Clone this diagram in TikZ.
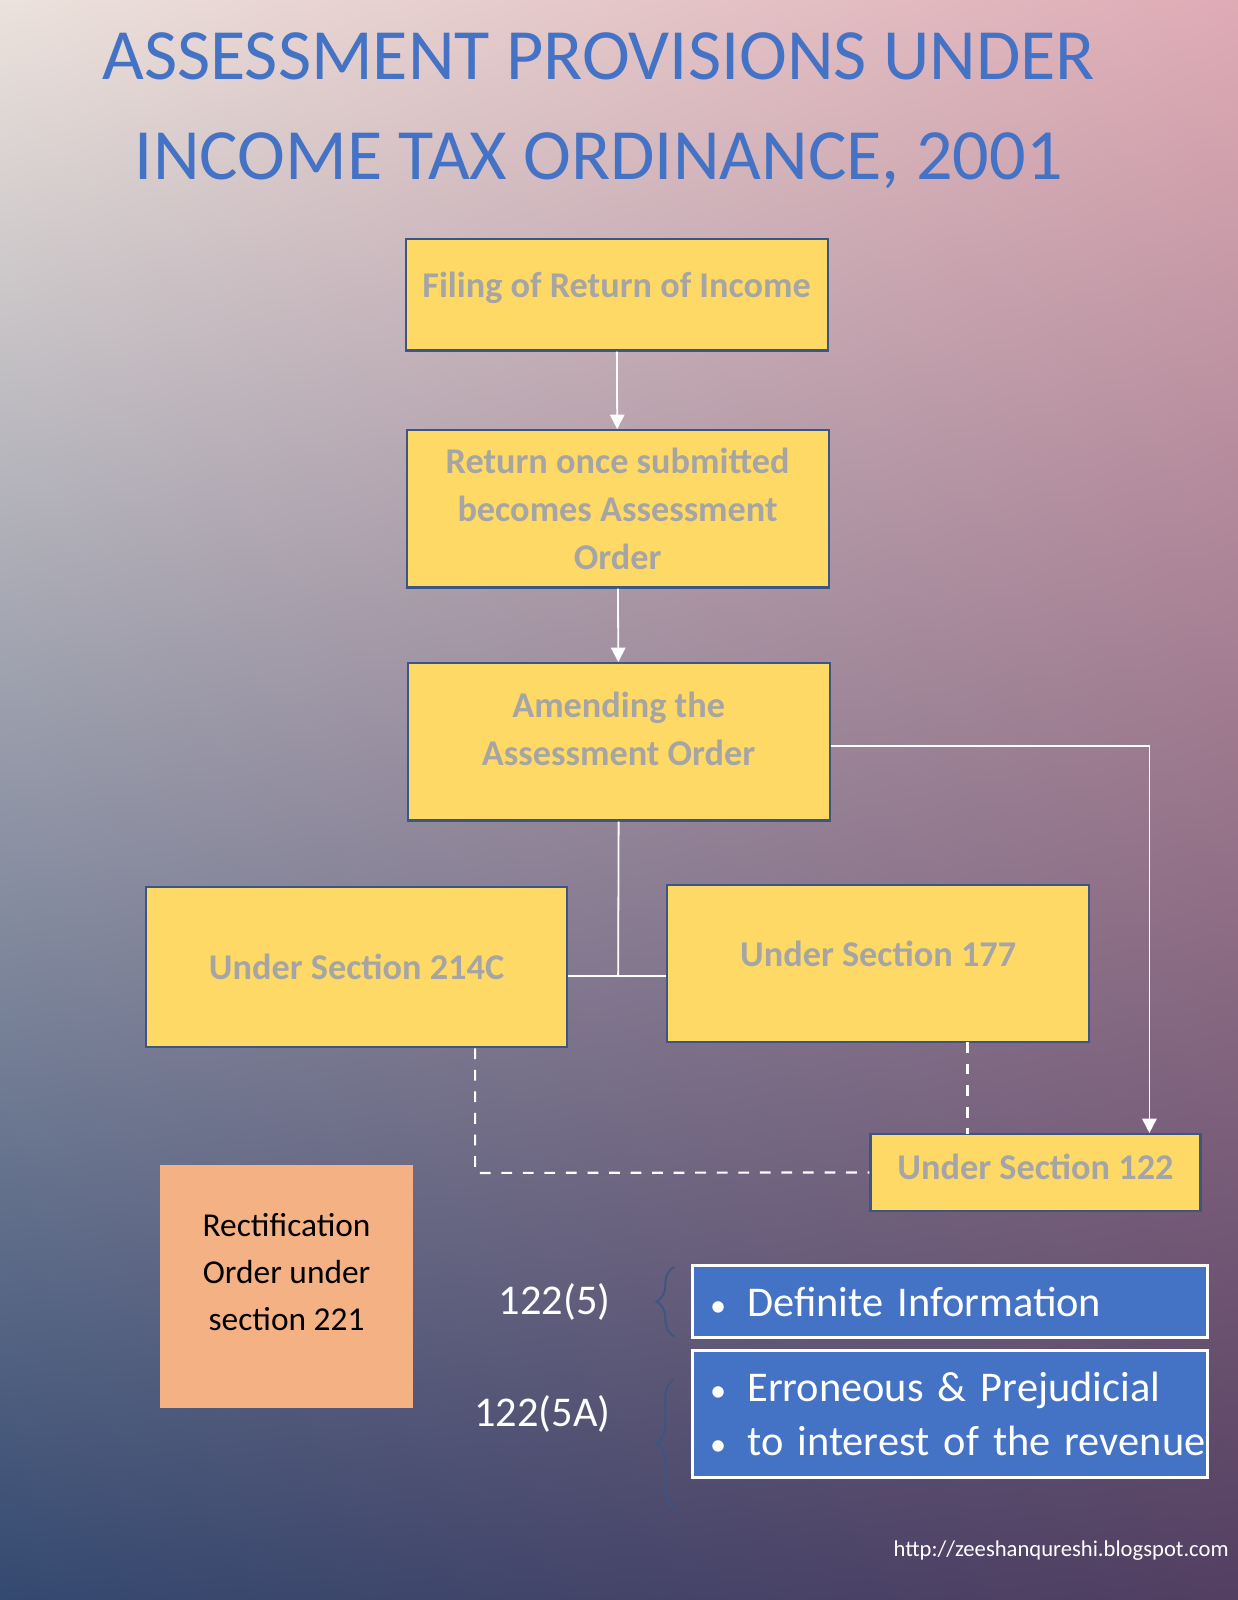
\documentclass[tikz,border=0pt]{standalone}
\usepackage{fontspec}
\setmainfont{Carlito}
\usetikzlibrary{positioning,arrows.meta,decorations.pathreplacing,shadings}
\definecolor{titleblue}{HTML}{4472C4}
\definecolor{boxyellow}{HTML}{FFD966}
\definecolor{boxedge}{HTML}{3B5584}
\definecolor{boxgray}{HTML}{A5A5A5}
\definecolor{rectorange}{HTML}{F4B183}
\definecolor{bgtl}{RGB}{236,226,220}
\definecolor{bgtr}{RGB}{222,170,180}
\definecolor{bgbl}{RGB}{48,70,110}
\definecolor{bgbr}{RGB}{80,60,95}
\tikzset{
 stage/.style={draw=boxedge,fill=boxyellow,line width=0.6pt,align=center,text=boxgray,font=\fontsize{10.1}{13.3}\selectfont\bfseries,inner sep=2pt},
 point/.style={draw=white,fill=titleblue,line width=0.8pt,text=white,align=left,font=\fontsize{11.8}{15}\selectfont,anchor=west,inner xsep=2pt,inner ysep=3pt,text width=4.9cm},
 link/.style={draw=white,line width=0.5pt},
 arrow/.style={link,-{Triangle[width=4pt,length=4pt]}},
 dashlink/.style={link,dashed,line width=0.6pt}
}
\newcommand{\bulletline}[1]{\mbox{\hspace*{3pt}{\small\textbullet}\enspace #1}}
\begin{document}
\begin{tikzpicture}
 \shade[upper left=bgtl,upper right=bgtr,lower left=bgbl,lower right=bgbr] (0,0) rectangle (12.37,-16);

 %Title
 \node (title1) [text=titleblue,font=\fontsize{20.1}{24}\selectfont] at (5.86,-0.55) {ASSESSMENT PROVISIONS UNDER};
 \node (title2) [text=titleblue,font=\fontsize{20.1}{24}\selectfont] at (5.86,-1.57) {INCOME TAX ORDINANCE, 2001};

 %Boxes
 \node (filing) [stage,minimum width=4.13cm,minimum height=1.09cm] at (6.035,-2.885) {Filing of Return of Income\\[-8pt]~};
 \node (return) [stage,minimum width=4.13cm,minimum height=1.54cm] at (6.045,-4.98) {Return once submitted\\becomes Assessment\\Order};
 \node (amend) [stage,minimum width=4.13cm,minimum height=1.54cm] at (6.055,-7.26) {Amending the\\Assessment Order\\[-6pt]~};
 \node (s214) [stage,minimum width=4.12cm,minimum height=1.57cm] at (3.49,-9.465) {Under Section 214C};
 \node (s177) [stage,minimum width=4.13cm,minimum height=1.54cm] at (8.595,-9.43) {Under Section 177\\[-8pt]~};
 \node (s122) [stage,minimum width=3.23cm,minimum height=0.75cm] at (10.135,-11.475) {Under Section 122\\[-10pt]~};
 \node (rect) [draw=none,fill=rectorange,minimum width=2.47cm,minimum height=2.38cm,align=center,font=\fontsize{9.3}{13}\selectfont] at (2.805,-12.59) {Rectification\\Order under\\section 221\\[-5pt]~};
 \node (info) [point,minimum height=0.7cm] at (6.76,-12.74) {\bulletline{Definite Information}};
 \node (err) [point,minimum height=1.24cm] at (6.76,-13.84) {\bulletline{Erroneous \& Prejudicial}\\\bulletline{to interest of the revenue}};

 %Labels
 \node (l5) [text=white,anchor=east,font=\fontsize{11.8}{15}\selectfont] at (6.1,-12.74) {122(5)};
 \node (l5a) [text=white,anchor=east,font=\fontsize{11.8}{15}\selectfont] at (6.1,-13.84) {122(5A)};
 \node (url) [text=white,anchor=east,font=\fontsize{6.3}{8}\selectfont] at (12.15,-15.18) {http://zeeshanqureshi.blogspot.com};

 %Braces
 \draw[draw=boxedge,line width=0.5pt,decorate,decoration={brace,amplitude=5pt}] (6.6,-13.08) -- (6.6,-12.4);
 \draw[draw=boxedge,line width=0.5pt,decorate,decoration={brace,amplitude=5pt}] (6.6,-14.75) -- (6.6,-13.5);

 %Connectors
 \coordinate (join) at (6.05,-9.55);
 \coordinate (turn) at (11.25,-7.3);
 \coordinate (dash1) at (4.65,-11.48);
 \draw[arrow] (filing) -- (return);
 \draw[arrow] (return) -- (amend);
 \draw[link] (amend.south) -- (join);
 \draw[link] (s214.east |- join) -- (s177.west |- join);
 \draw[arrow] (amend.east |- turn) -- (turn) -- (turn |- s122.north);
 \draw[dashlink] (s214.south -| dash1) -- (dash1) -- (s122.west);
 \draw[dashlink] (9.47,-10.2) -- (9.47,-11.1);

 \pgfresetboundingbox
 \path[use as bounding box] (0,0) rectangle (12.11,-15.66);
\end{tikzpicture}
\end{document}
